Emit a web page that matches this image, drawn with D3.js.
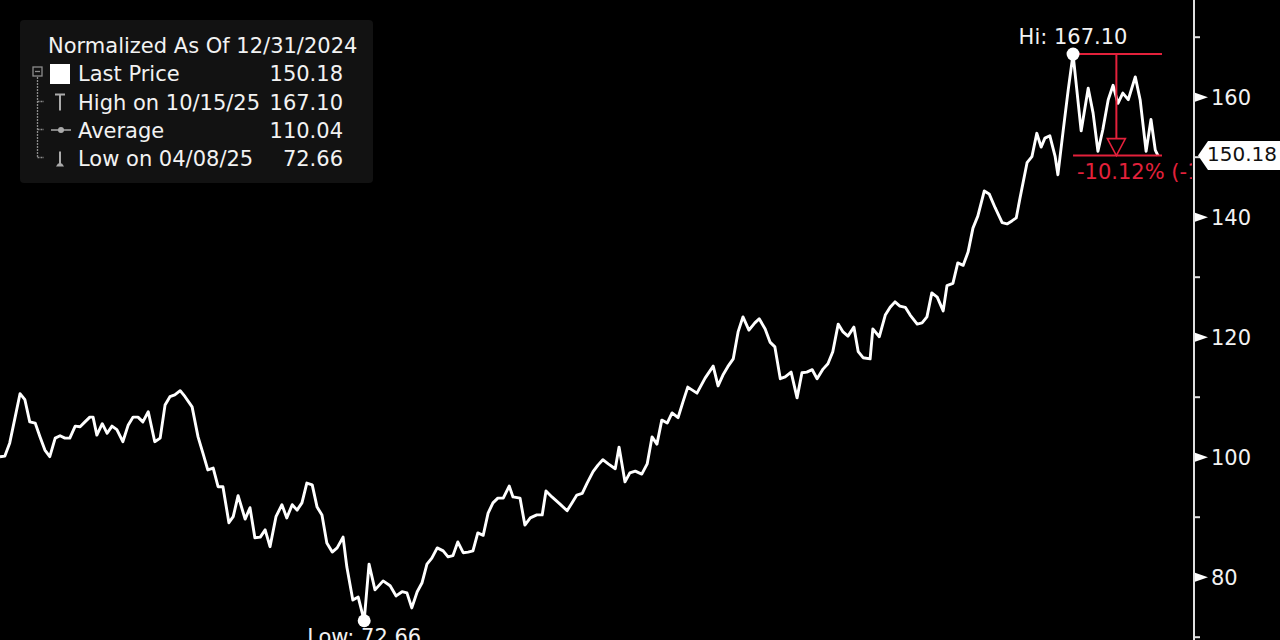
<!DOCTYPE html>
<html><head><meta charset="utf-8">
<script src="https://cdn.jsdelivr.net/npm/d3@7"></script>
<style>
html,body{margin:0;padding:0;background:#000;}
svg{display:block;}
text{font-family:"DejaVu Sans",sans-serif;}
</style></head>
<body><svg id="chart" width="1280" height="640"></svg>
<script>
// ---- data (trading-session offset from 12/31/2024, normalized price) ----
const sessions = [0,0.9,1.8,2.8,3.7,4.6,5.5,6.5,7.4,8.3,9.2,10.2,11.1,12.0,12.9,13.9,14.8,15.7,16.6,17.2,17.9,18.9,19.8,20.7,21.6,22.7,23.7,24.6,25.5,26.4,27.4,28.6,29.6,30.5,31.4,32.3,33.3,34.2,35.5,36.6,37.5,38.4,39.4,40.3,41.2,42.3,43.1,44.0,45.3,46.2,47.1,48.1,49.0,49.9,51.0,52.1,53.0,54.0,54.9,55.8,56.7,57.7,58.6,59.5,60.4,61.4,62.3,63.4,64.1,65.2,66.2,67.3,68.2,69.3,70.8,72.1,73.2,74.3,75.2,76.1,77.1,78.0,78.9,79.8,80.8,81.9,82.8,83.7,84.6,85.6,86.5,87.4,88.3,89.3,90.2,91.1,92.0,93.0,94.1,94.8,96.1,97.0,98.0,99.2,100.2,100.9,102.0,103.5,104.8,105.7,106.6,107.6,108.5,109.6,110.5,111.4,112.4,113.7,114.4,115.5,116.4,117.4,118.6,119.6,120.5,121.4,122.3,123.3,124.2,125.3,126.2,127.1,128.8,130.3,131.8,132.7,133.6,134.5,135.5,136.4,137.3,138.4,139.5,140.3,141.4,142.3,143.2,144.2,145.1,146.2,147.3,148.2,149.1,150.1,151.0,152.1,153.0,153.9,154.9,155.8,156.7,157.8,158.6,159.5,160.8,161.3,162.5,163.6,164.5,165.4,166.3,167.3,168.2,169.5,170.4,171.3,172.2,173.2,174.3,175.0,176.1,177.0,178.0,178.9,179.8,180.7,181.9,182.8,183.9,185.2,186.1,187.0,187.8,188.5,189.8,190.7,191.6,192.4,193.1,194.0,195.0,195.5,196.5,197.4,198.3,199.8,201.1,202.0,202.9,203.8,204.8,205.7,206.6,207.5,208.5,209.8,210.7,211.8,212.7,213.5,214.0];
const values = [100.0,100.1,102.3,106.6,110.5,109.5,105.8,105.6,103.3,101.1,100.0,103.1,103.5,103.1,103.1,105.1,105.0,105.8,106.6,106.6,103.6,105.5,103.9,105.1,104.5,102.5,105.3,106.6,106.6,105.8,107.5,102.5,103.1,108.6,110.0,110.3,111.0,110.0,108.3,103.3,100.6,97.8,98.1,95.0,95.0,89.0,90.0,93.5,89.6,91.5,86.5,86.6,87.8,85.0,90.0,92.0,89.8,92.0,91.1,92.3,95.6,95.3,91.6,90.3,85.6,84.1,84.8,86.6,81.6,76.1,76.6,72.66,82.1,77.8,79.3,78.5,76.8,77.5,77.3,74.8,77.5,79.0,82.1,83.1,84.8,84.3,83.3,83.5,85.8,84.0,84.1,84.3,87.3,86.9,90.6,92.3,93.1,93.1,95.1,93.3,93.1,88.6,89.8,90.3,90.3,94.3,93.3,92.1,91.0,92.3,93.6,93.9,95.6,97.5,98.6,99.5,98.8,98.0,101.6,95.8,97.3,97.6,97.1,98.8,103.3,102.1,106.1,105.6,107.3,106.5,109.1,111.6,110.6,113.1,115.1,111.8,113.6,115.0,116.3,120.8,123.3,121.1,122.3,123.0,121.3,119.1,118.3,113.0,113.3,114.1,109.8,114.0,114.1,114.5,113.0,114.6,115.5,117.5,122.1,120.8,120.1,121.6,117.5,116.5,116.3,121.3,120.0,123.6,124.9,125.8,125.1,124.9,123.6,122.1,122.3,123.3,127.3,126.6,124.3,128.5,128.9,132.3,131.9,134.1,138.1,140.1,144.3,143.8,141.5,139.0,138.8,139.3,139.8,143.1,149.0,150.0,153.9,151.6,153.1,153.5,150.0,147.0,154.5,161.1,167.10,154.3,161.4,157.3,150.9,154.5,159.5,161.9,158.9,160.6,159.5,163.3,159.5,150.9,156.2,151.1,150.18];
const majorTicks = [80,100,120,140,160];
const minorTicks = [70,90,110,130,150,170];
const legendTitle = "Normalized As Of 12/31/2024";
const legendLabels = ["Last Price","High on 10/15/25","Average","Low on 04/08/25"];
const legendValues = ["150.18","167.10","110.04","72.66"];
const lastLabel = "150.18";
const hiLabel = "Hi: 167.10";
const loLabel = "Low: 72.66";
const changeLabel = "-10.12% (-16.92)";

// ---- layout ----
const W = 1280, H = 640, axisX = 1194, FS = 21;
const svg = d3.select("#chart");
svg.append("rect").attr("width",W).attr("height",H).attr("fill","#000");

const x = d3.scaleLinear().domain([0, 214]).range([0, 1158]);
const y = d3.scaleLinear().domain([70, 170]).range([636.7, 36.7]);
const RED = "#e3213b", TXT = "#f2f2f2";

svg.append("defs").append("clipPath").attr("id","plot")
  .append("rect").attr("x",0).attr("y",0).attr("width",1192).attr("height",H);

const plot = svg.append("g").attr("clip-path","url(#plot)");

const pts = sessions.map((s,i)=>({s, v: values[i]}));
const line = d3.line().x(d=>x(d.s)).y(d=>y(d.v));
plot.append("path").datum(pts).attr("d",line)
  .attr("fill","none").attr("stroke","#fff").attr("stroke-width",2.9)
  .attr("stroke-linejoin","round");

const hi = pts[d3.maxIndex(values)], lo = pts[d3.minIndex(values)], last = pts[pts.length-1];

// drawdown annotation
const rx2 = x(last.s) + 4;
const midX = x(hi.s) + (x(last.s) - x(hi.s)) * 0.51;
plot.append("line").attr("x1",x(hi.s)).attr("x2",rx2).attr("y1",y(hi.v)).attr("y2",y(hi.v))
  .attr("stroke",RED).attr("stroke-width",2);
plot.append("line").attr("x1",x(hi.s)).attr("x2",rx2).attr("y1",y(last.v)).attr("y2",y(last.v))
  .attr("stroke",RED).attr("stroke-width",2);
plot.append("line").attr("x1",midX).attr("x2",midX).attr("y1",y(hi.v)).attr("y2",y(last.v)-17)
  .attr("stroke",RED).attr("stroke-width",2);
plot.append("path")
  .attr("d",`M${midX-9},${y(last.v)-17}L${midX+9},${y(last.v)-17}L${midX},${y(last.v)}Z`)
  .attr("fill","none").attr("stroke",RED).attr("stroke-width",1.6);
plot.append("text").attr("x",x(hi.s)+4).attr("y",y(last.v)+17)
  .attr("dominant-baseline","middle").attr("font-size",FS).attr("fill",RED).text(changeLabel);

// hi / lo markers
plot.append("circle").attr("cx",x(hi.s)).attr("cy",y(hi.v)).attr("r",6.5).attr("fill","#fff");
plot.append("circle").attr("cx",x(lo.s)).attr("cy",y(lo.v)).attr("r",6.5).attr("fill","#fff");
plot.append("text").attr("x",x(hi.s)).attr("y",y(hi.v)-16).attr("text-anchor","middle")
  .attr("dominant-baseline","middle").attr("font-size",FS).attr("fill",TXT).text(hiLabel);
plot.append("text").attr("x",x(lo.s)).attr("y",y(lo.v)+17).attr("text-anchor","middle")
  .attr("dominant-baseline","middle").attr("font-size",FS).attr("fill",TXT).text(loLabel);

// ---- right axis ----
const axG = svg.append("g").attr("transform",`translate(${axisX},0)`);
axG.append("line").attr("x1",0).attr("x2",0).attr("y1",0).attr("y2",H)
  .attr("stroke","#e0e0e0").attr("stroke-width",2);
const minorAxis = svg.append("g").attr("transform",`translate(${axisX},0)`)
  .call(d3.axisRight(y).tickValues(minorTicks).tickSize(6).tickFormat(""));
minorAxis.select(".domain").remove();
minorAxis.selectAll(".tick line").attr("stroke","#e0e0e0").attr("stroke-width",2);
const majorAxis = svg.append("g").attr("transform",`translate(${axisX},0)`)
  .call(d3.axisRight(y).tickValues(majorTicks).tickSize(0).tickPadding(17).tickFormat(d3.format("d")));
majorAxis.select(".domain").remove();
majorAxis.selectAll(".tick line").remove();
majorAxis.selectAll(".tick").append("path").attr("d","M1,-4.5L14,0L1,4.5Z").attr("fill","#fff");
majorAxis.selectAll(".tick text").attr("font-family","DejaVu Sans").attr("font-size",FS)
  .attr("fill",TXT).attr("dy","0.35em");

// last price tag
const ly = y(last.v);
svg.append("path").attr("d",`M1198,${ly}L1208,${ly-14.5}L1282,${ly-14.5}L1282,${ly+14.5}L1208,${ly+14.5}Z`)
  .attr("fill","#fff");
svg.append("text").attr("x",1207).attr("y",ly).attr("dominant-baseline","middle")
  .attr("font-size",20).attr("fill","#111").text(lastLabel);

// ---- legend ----
const lg = svg.append("g");
lg.append("rect").attr("x",20).attr("y",20).attr("width",353).attr("height",163).attr("rx",4)
  .attr("fill","#121212");
lg.append("text").attr("x",48).attr("y",47).attr("dominant-baseline","middle")
  .attr("font-size",FS).attr("fill",TXT).text(legendTitle);
const rowY = [75, 103.5, 131.5, 159.5];
const GR = "#8c8c8c";
// tree
lg.append("rect").attr("x",33).attr("y",67).attr("width",9).attr("height",9)
  .attr("fill","none").attr("stroke",GR).attr("stroke-width",1.3);
lg.append("line").attr("x1",35).attr("x2",40).attr("y1",71.5).attr("y2",71.5).attr("stroke",GR).attr("stroke-width",1.3);
lg.append("line").attr("x1",37.5).attr("x2",37.5).attr("y1",77).attr("y2",rowY[3]-2)
  .attr("stroke",GR).attr("stroke-width",1.3).attr("stroke-dasharray","2,1");
rowY.slice(1).forEach(ry=>{
  lg.append("line").attr("x1",37.5).attr("x2",44).attr("y1",ry-2).attr("y2",ry-2)
    .attr("stroke",GR).attr("stroke-width",1.3).attr("stroke-dasharray","2,1");
});
// icons
lg.append("rect").attr("x",50).attr("y",64).attr("width",20).attr("height",20).attr("fill","#fff");
lg.append("line").attr("x1",55).attr("x2",65).attr("y1",rowY[1]-9).attr("y2",rowY[1]-9).attr("stroke","#aaa").attr("stroke-width",2);
lg.append("line").attr("x1",60).attr("x2",60).attr("y1",rowY[1]-9).attr("y2",rowY[1]+7).attr("stroke","#aaa").attr("stroke-width",2);
lg.append("line").attr("x1",51).attr("x2",71).attr("y1",rowY[2]-1.5).attr("y2",rowY[2]-1.5).attr("stroke","#aaa").attr("stroke-width",1.5);
lg.append("circle").attr("cx",61).attr("cy",rowY[2]-1.5).attr("r",3).attr("fill","#aaa");
lg.append("line").attr("x1",60).attr("x2",60).attr("y1",rowY[3]-8).attr("y2",rowY[3]+5).attr("stroke","#aaa").attr("stroke-width",2);
lg.append("path").attr("d",`M56,${rowY[3]+7}L64,${rowY[3]+7}L62,${rowY[3]+4}L58,${rowY[3]+4}Z`).attr("fill","#aaa");
// labels/values
lg.selectAll("text.lab").data(legendLabels).join("text").attr("class","lab")
  .attr("x",78).attr("y",(d,i)=>rowY[i]).attr("dominant-baseline","middle")
  .attr("font-size",FS).attr("fill",TXT).text(d=>d);
lg.selectAll("text.val").data(legendValues).join("text").attr("class","val")
  .attr("x",343).attr("y",(d,i)=>rowY[i]).attr("dominant-baseline","middle").attr("text-anchor","end")
  .attr("font-size",FS).attr("fill",TXT).text(d=>d);
</script></body></html>
